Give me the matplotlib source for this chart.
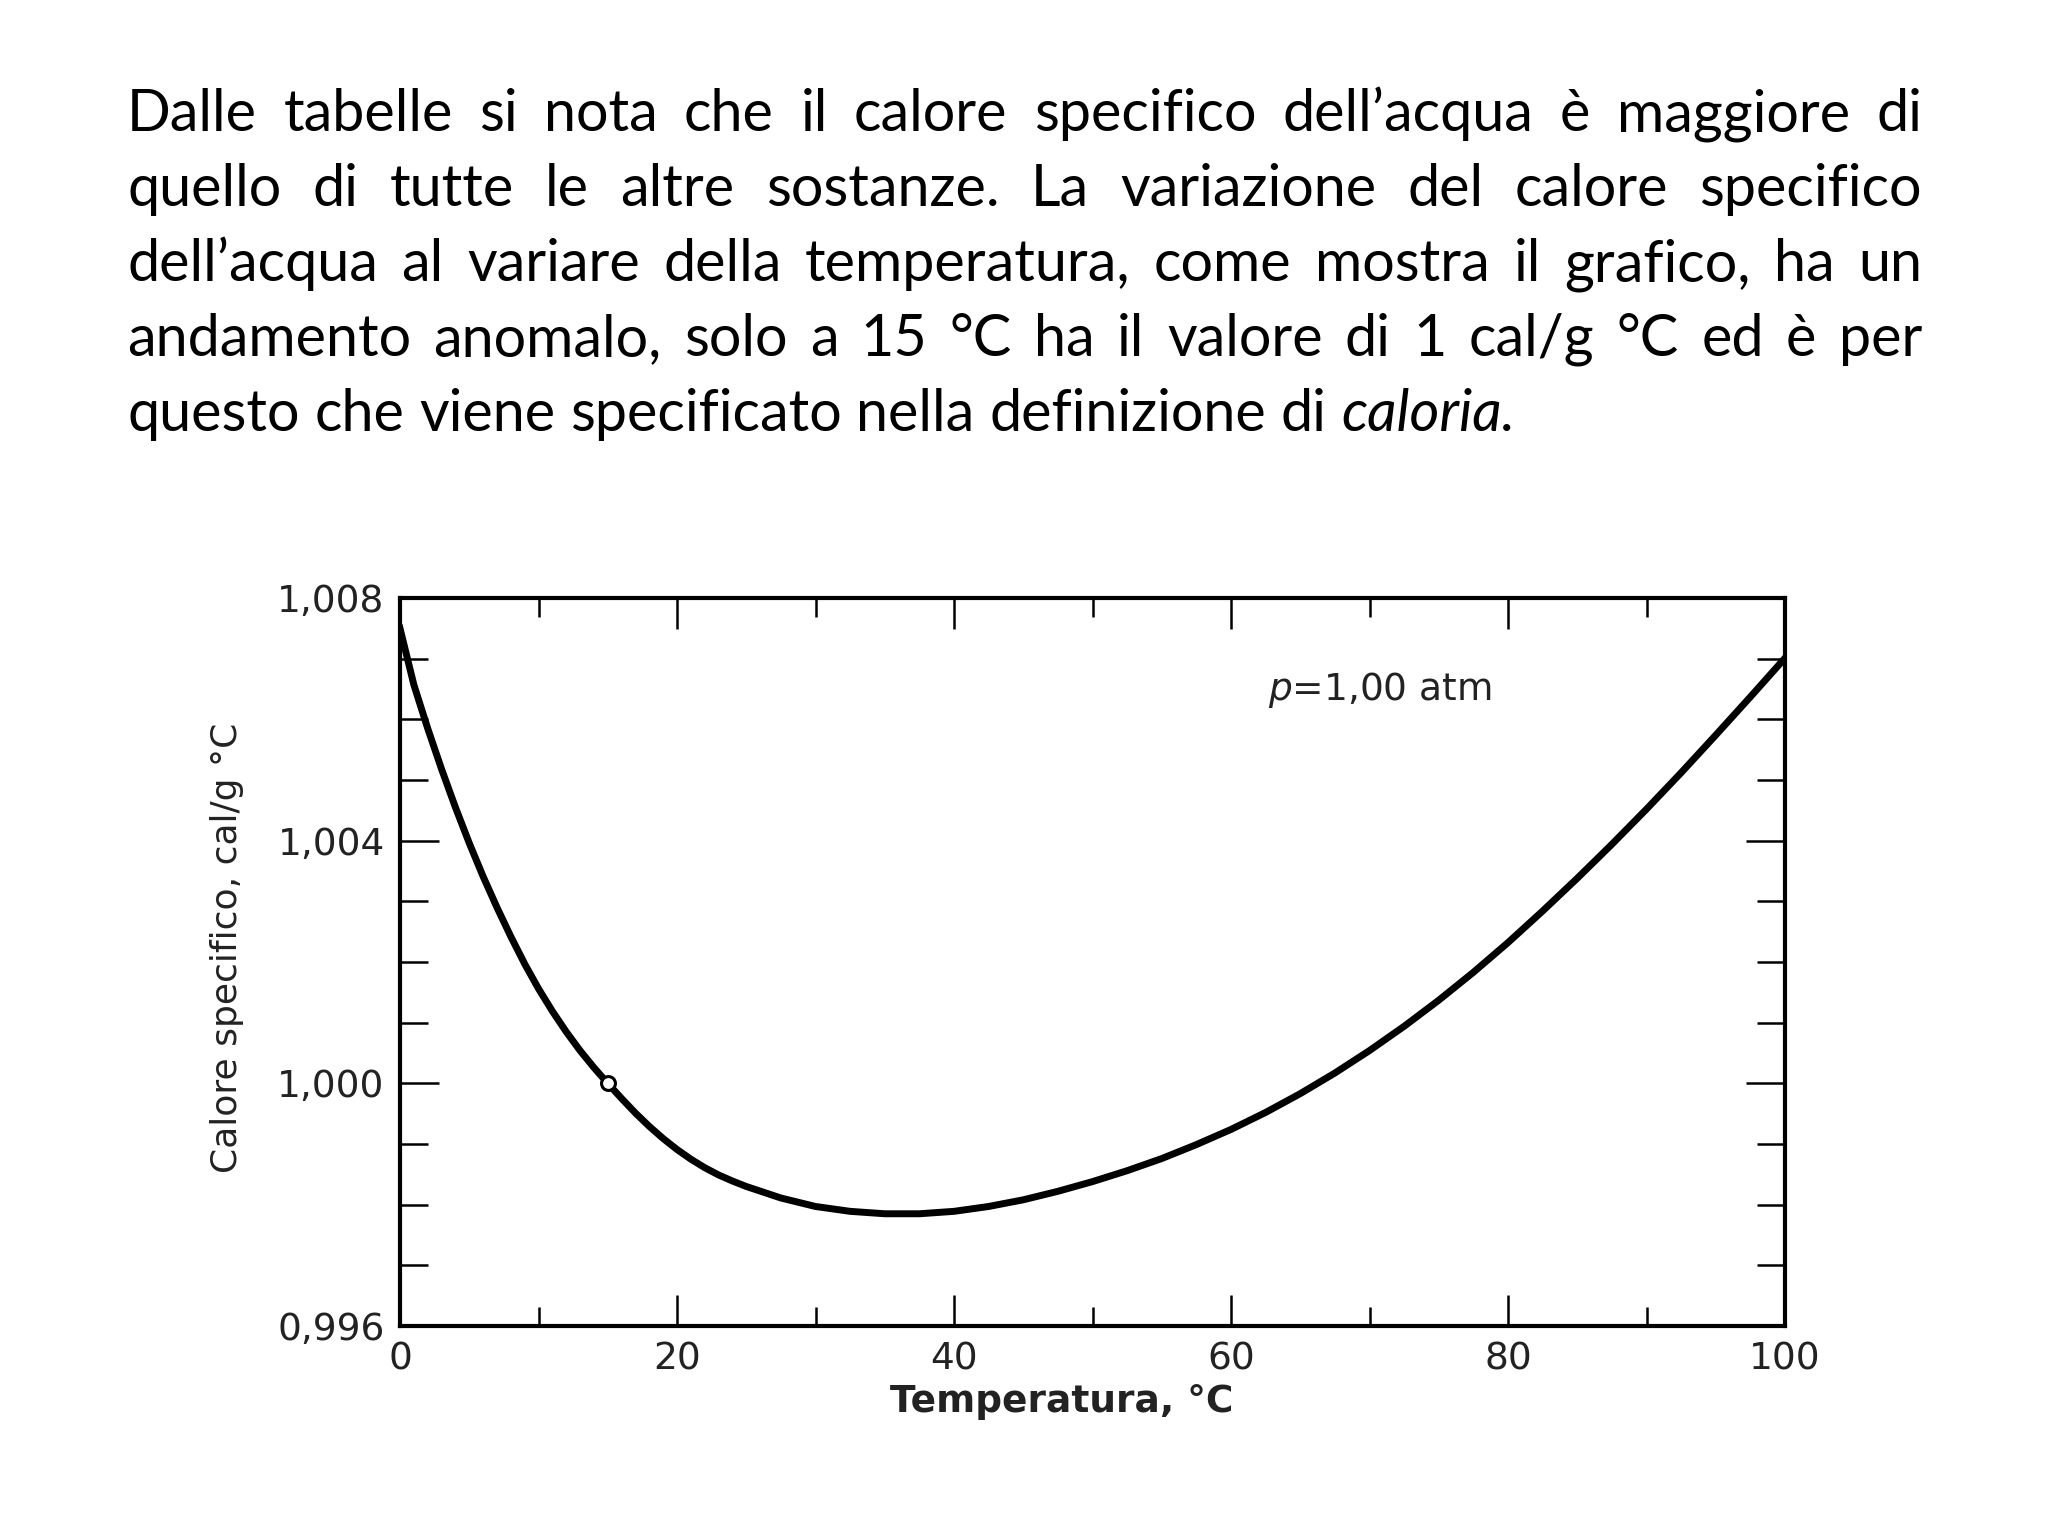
import numpy as np
import matplotlib.pyplot as plt
from matplotlib.ticker import MultipleLocator

# paragraph of the slide, one list item per printed line (justified by hand)
text_lines = [
    "Dalle tabelle si nota che il calore specifico dell’acqua è maggiore di",
    "quello di tutte le altre sostanze. La variazione del calore specifico",
    "dell’acqua al variare della temperatura, come mostra il grafico, ha un",
    "andamento anomalo, solo a 15 °C ha il valore di 1 cal/g °C ed è per",
    "questo che viene specificato nella definizione di",
]
italic_word = "caloria."

# specific heat of water (°C, cal/g °C)
temp = [0, 1, 2, 3, 4, 5, 6, 7, 8, 9, 10, 11, 12, 13, 14, 15, 16, 17, 18,
        19, 20, 21, 22, 23, 24, 25, 27.5, 30, 32.5, 35, 37.5, 40, 42.5, 45,
        47.5, 50, 52.5, 55, 57.5, 60, 62.5, 65, 67.5, 70, 72.5, 75, 77.5,
        80, 82.5, 85, 87.5, 90, 92.5, 95, 97.5, 100]
cal = [1.00750, 1.00657, 1.00585, 1.00518, 1.00455, 1.00396, 1.00341,
       1.00290, 1.00242, 1.00197, 1.00156, 1.00119, 1.00085, 1.00054,
       1.00026, 1.00000, 0.99975, 0.99951, 0.99929, 0.99909, 0.99891,
       0.99875, 0.99861, 0.99849, 0.99839, 0.99830, 0.99811, 0.99797,
       0.99789, 0.99785, 0.99785, 0.99789, 0.99797, 0.99808, 0.99822,
       0.99838, 0.99856, 0.99876, 0.99899, 0.99924, 0.99952, 0.99983,
       1.00017, 1.00054, 1.00094, 1.00137, 1.00183, 1.00232, 1.00284,
       1.00338, 1.00394, 1.00452, 1.00512, 1.00574, 1.00637, 1.00701]

# reference point (15 °C, 1 cal/g °C)
ref_t = [15]
ref_c = [1.000]

xtick_vals = [0, 20, 40, 60, 80, 100]
xtick_labels = ["0", "20", "40", "60", "80", "100"]
ytick_vals = [0.996, 1.000, 1.004, 1.008]
ytick_labels = ["0,996", "1,000", "1,004", "1,008"]

W, H = 2048, 1536
fig = plt.figure(figsize=(W / 100, H / 100), dpi=100)
renderer = fig.canvas.get_renderer()

# ---- justified paragraph ----
par_font = "Lato"
left_px, right_px = 127, 1922
first_base, line_step = 131, 75


def text_width(s, fs, style="normal"):
    t = fig.text(0, 0, s, fontsize=fs, family=par_font, style=style)
    w = t.get_window_extent(renderer).width
    t.remove()
    return w


# pick the size so the last (ragged) line is as long as in the slide
base_fs = 36
last_w = text_width(text_lines[-1] + " " + italic_word, base_fs)
fs = base_fs * 1396 / last_w
space_w = text_width("a a", fs) - text_width("aa", fs)

for i, line in enumerate(text_lines):
    words = line.split(" ")
    y = 1 - (first_base + i * line_step) / H
    widths = [text_width(w, fs) for w in words]
    if i < len(text_lines) - 1:
        gap = (right_px - left_px - sum(widths)) / (len(words) - 1)
    else:
        gap = space_w
    x = left_px
    for w, wd in zip(words, widths):
        fig.text(x / W, y, w, fontsize=fs, family=par_font, va="baseline",
                 ha="left", color="black")
        x += wd + gap
    if i == len(text_lines) - 1:
        fig.text(x / W, y, italic_word, fontsize=fs, family=par_font,
                 style="italic", va="baseline", ha="left", color="black")

# ---- chart ----
ax = fig.add_axes([400 / W, 1 - 1326 / H, 1385 / W, 728 / H])
ax.plot(temp, cal, color="black", lw=5, solid_joinstyle="round", zorder=3)
ax.plot(ref_t, ref_c, "o", ms=10, mfc="white", mec="black", mew=2.2,
        zorder=4)

ax.set_xlim(0, 100)
ax.set_ylim(0.996, 1.008)
ax.set_xticks(xtick_vals)
ax.set_xticklabels(xtick_labels)
ax.set_yticks(ytick_vals)
ax.set_yticklabels(ytick_labels)
ax.xaxis.set_minor_locator(MultipleLocator(10))
ax.yaxis.set_minor_locator(MultipleLocator(0.001))

for sp in ax.spines.values():
    sp.set_linewidth(3)
    sp.set_color("black")

ax.tick_params(which="both", direction="in", top=True, right=True,
               width=1.8, color="black", labelcolor="#222222", labelsize=27)
ax.tick_params(axis="x", which="major", length=22, pad=11)
ax.tick_params(axis="x", which="minor", length=14)
ax.tick_params(axis="y", which="major", length=28, pad=11)
ax.tick_params(axis="y", which="minor", length=20)

ax.text(0.478, -0.105, "Temperatura, °C", transform=ax.transAxes,
        ha="center", va="center", fontsize=27, fontweight="bold",
        color="#222222")
ax.text(-0.125, 0.519, "Calore specifico, cal/g °C", transform=ax.transAxes,
        ha="center", va="center", rotation=90, fontsize=26, color="#222222")
ax.text(62.7, 1.00632, "$p$=1,00 atm", ha="left", va="baseline",
        fontsize=27, color="#222222")

fig.savefig("out.png", dpi=100, facecolor="white")
